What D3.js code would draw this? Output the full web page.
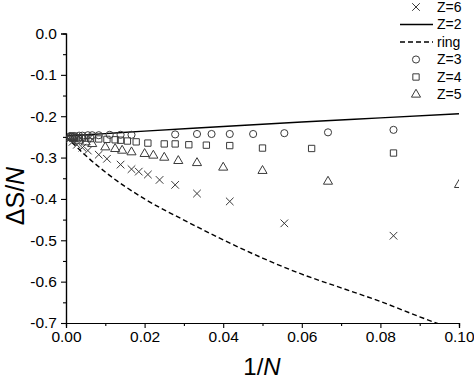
<!DOCTYPE html>
<html><head><meta charset="utf-8">
<script src="https://cdn.jsdelivr.net/npm/d3@7"></script>
<style>body{margin:0;background:#fff}svg{display:block}text{font-family:"Liberation Sans",Arial,sans-serif;fill:#000}</style>
</head><body>
<svg id="c" width="474" height="381"></svg>
<script>
// ---- data ----
const xTicks = [0, 0.02, 0.04, 0.06, 0.08, 0.10];
const xTickLabels = ["0.00", "0.02", "0.04", "0.06", "0.08", "0.10"];
const xMinor = [0.01, 0.03, 0.05, 0.07, 0.09];
const yTicks = [0, -0.1, -0.2, -0.3, -0.4, -0.5, -0.6, -0.7];
const yTickLabels = ["0.0", "-0.1", "-0.2", "-0.3", "-0.4", "-0.5", "-0.6", "-0.7"];
const yMinor = [-0.05, -0.15, -0.25, -0.35, -0.45, -0.55, -0.65];

const z3N = [12, 15, 18, 21, 24, 27, 30, 36, 60, 72, 90, 120, 150, 180, 240, 300, 450, 600, 900];
const z3V = [-0.233, -0.239, -0.241, -0.243, -0.243, -0.243, -0.243, -0.244, -0.245, -0.245, -0.245, -0.246, -0.246, -0.246, -0.247, -0.247, -0.248, -0.248, -0.248];
const z4N = [12, 16, 20, 24, 28, 32, 36, 40, 48, 56, 64, 72, 80, 96, 120, 160, 200, 240, 320, 480, 800];
const z4V = [-0.289, -0.278, -0.277, -0.271, -0.270, -0.269, -0.267, -0.267, -0.265, -0.262, -0.260, -0.258, -0.257, -0.256, -0.255, -0.254, -0.253, -0.252, -0.252, -0.251, -0.250];
const z5N = [10, 15, 20, 25, 30, 35, 40, 45, 50, 60, 70, 80, 100, 150, 200, 300, 500, 1000];
const z5V = [-0.366, -0.358, -0.332, -0.324, -0.313, -0.308, -0.300, -0.295, -0.291, -0.287, -0.283, -0.279, -0.275, -0.267, -0.263, -0.259, -0.255, -0.252];
const z6N = [12, 18, 24, 30, 36, 42, 48, 54, 60, 72, 96, 120, 180, 240, 360, 600, 1200];
const z6V = [-0.489, -0.459, -0.406, -0.387, -0.366, -0.354, -0.341, -0.334, -0.328, -0.317, -0.303, -0.293, -0.283, -0.276, -0.269, -0.262, -0.256];

const z2X = [0, 0.01, 0.02, 0.04, 0.06, 0.08, 0.10];
const z2V = [-0.248, -0.242, -0.236, -0.225, -0.214, -0.204, -0.194];
const ringX = [0, 0.002, 0.005, 0.01, 0.02, 0.03, 0.04, 0.05, 0.06, 0.07, 0.08, 0.09, 0.10];
const ringV = [-0.25, -0.268, -0.295, -0.335, -0.400, -0.451, -0.499, -0.543, -0.582, -0.615, -0.648, -0.685, -0.72];

const legendLabels = ["Z=6", "Z=2", "ring", "Z=3", "Z=4", "Z=5"];

// ---- drawing ----
const svg = d3.select("#c");
const x = d3.scaleLinear().domain([0, 0.1]).range([66, 459]);
const y = d3.scaleLinear().domain([0, -0.7]).range([33.5, 323]);

svg.append("defs").append("clipPath").attr("id", "clip")
  .append("rect").attr("x", 66).attr("y", 33.5).attr("width", 393).attr("height", 289.5);

const font = 15.5;
svg.append("g").attr("transform", "translate(0,323)")
  .call(d3.axisBottom(x).tickValues(xTicks).tickSize(5).tickPadding(3).tickFormat((d, i) => xTickLabels[i]));
svg.append("g").attr("transform", "translate(0,323)")
  .call(d3.axisBottom(x).tickValues(xMinor).tickSize(3).tickFormat(""));
svg.append("g").attr("transform", "translate(66,0)")
  .call(d3.axisLeft(y).tickValues(yTicks).tickSize(5).tickPadding(4).tickFormat((d, i) => yTickLabels[i]));
svg.append("g").attr("transform", "translate(66,0)")
  .call(d3.axisLeft(y).tickValues(yMinor).tickSize(3).tickFormat(""));
svg.selectAll(".domain").attr("stroke", "#000").attr("stroke-width", 1.2);
svg.selectAll(".tick line").attr("stroke", "#000").attr("stroke-width", 1.1);
svg.selectAll(".tick text").attr("font-size", font).attr("font-family", '"Liberation Sans",Arial,sans-serif').attr("fill", "#000");

const xt = svg.append("text").attr("x", 262).attr("y", 375).attr("text-anchor", "middle").attr("font-size", 24);
xt.append("tspan").text("1/");
xt.append("tspan").attr("font-style", "italic").text("N");
const yt = svg.append("text").attr("transform", "translate(24,196) rotate(-90)").attr("text-anchor", "middle").attr("font-size", 25);
yt.append("tspan").text("ΔS/");
yt.append("tspan").attr("font-style", "italic").text("N");

const plot = svg.append("g").attr("clip-path", "url(#clip)");
const line = d3.line().x(d => x(d[0])).y(d => y(d[1])).curve(d3.curveMonotoneX);
plot.append("path").datum(z2X.map((v, i) => [v, z2V[i]])).attr("d", line)
  .attr("fill", "none").attr("stroke", "#000").attr("stroke-width", 1.4);
plot.append("path").datum(ringX.map((v, i) => [v, ringV[i]])).attr("d", line)
  .attr("fill", "none").attr("stroke", "#000").attr("stroke-width", 1.4).attr("stroke-dasharray", "5,3");

const mcol = "#3a3a3a";
const circ = d3.symbol().type(d3.symbolCircle).size(40)();
const sq = d3.symbol().type(d3.symbolSquare).size(40)();
const tri = d3.symbol().type(d3.symbolTriangle).size(36)();
const cross = "M-3.8,-3.8L3.8,3.8M-3.8,3.8L3.8,-3.8";

function series(N, V, path) {
  plot.append("g").selectAll("path").data(N.map((n, i) => [1 / n, V[i]])).join("path")
    .attr("d", path).attr("transform", d => `translate(${x(d[0])},${y(d[1])})`)
    .attr("fill", "none").attr("stroke", mcol).attr("stroke-width", 1);
}
series(z3N, z3V, circ);
series(z4N, z4V, sq);
series(z5N, z5V, tri);
series(z6N, z6V, cross);

const lg = svg.append("g");
const ly = [7, 24.5, 42, 59.5, 77, 94.5];
const lx = 416;
const shapes = [cross, null, null, circ, sq, tri];
legendLabels.forEach((t, i) => {
  if (i === 1 || i === 2) {
    lg.append("line").attr("x1", 400).attr("x2", 433).attr("y1", ly[i]).attr("y2", ly[i])
      .attr("stroke", "#000").attr("stroke-width", 1.4).attr("stroke-dasharray", i === 2 ? "5,3" : null);
  } else {
    lg.append("path").attr("d", shapes[i]).attr("transform", `translate(${lx},${ly[i]})`)
      .attr("fill", "none").attr("stroke", mcol).attr("stroke-width", 1);
  }
  lg.append("text").attr("x", 437).attr("y", ly[i]).attr("dy", "0.35em").attr("font-size", 14).text(t);
});
</script>
</body></html>
